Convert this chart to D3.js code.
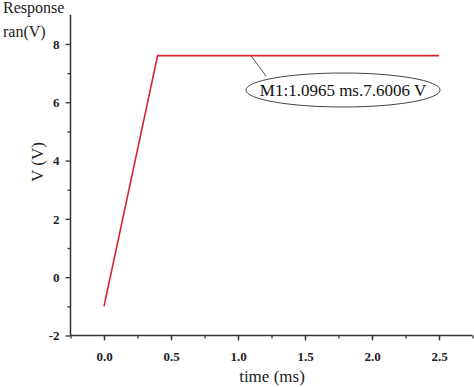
<!DOCTYPE html>
<html><head><meta charset="utf-8">
<script src="https://cdn.jsdelivr.net/npm/d3@7"></script>
<style>body{margin:0;background:#fff}svg{display:block}</style>
</head><body>
<svg id="c" width="474" height="387"></svg>
<script>
const timeMs = [0.0, 0.4, 2.5];
const voltage = [-1.0, 7.6, 7.6];
const xTicks = [0.0, 0.5, 1.0, 1.5, 2.0, 2.5];
const yTicks = [-2, 0, 2, 4, 6, 8];
const markerLabel = "M1:1.0965 ms.7.6006 V";
const markerPoint = [1.0965, 7.6006];

const svg = d3.select("#c");
const x = d3.scaleLinear().domain([-0.25, 2.75]).range([70.5, 472.5]);
const y = d3.scaleLinear().domain([-2, 9]).range([335.5, 14.8]);
const axisColor = "#333";
const serif = "'Liberation Serif','Times New Roman',serif";

// Line
const data = timeMs.map((t, i) => [t, voltage[i]]);
svg.append("path").datum(data)
  .attr("fill", "none").attr("stroke", "#d9232d").attr("stroke-width", 1.6)
  .attr("d", d3.line().x(d => x(d[0])).y(d => y(d[1])));

// X axis
const gx = svg.append("g").attr("transform", `translate(0,${y(-2)})`);
gx.call(d3.axisBottom(x).tickValues(d3.range(-0.25, 2.76, 0.25)).tickSize(3).tickFormat(""));
gx.call(g => g.select(".domain").remove());
const gx2 = svg.append("g").attr("transform", `translate(0,${y(-2)})`)
  .call(d3.axisBottom(x).tickValues(xTicks).tickSize(5).tickPadding(11).tickFormat(d3.format(".1f")));
[gx, gx2].forEach(g => {
  g.selectAll("line").attr("stroke", axisColor).attr("stroke-width", 1.3);
  g.selectAll("text").attr("font-family", serif).attr("font-weight", "bold").attr("font-size", 13).attr("fill", "#222");
});
gx2.select(".domain").attr("stroke", axisColor).attr("stroke-width", 1.5).attr("d", `M${x(-0.25)},0H${x(2.75)}`);

// Y axis
const gy = svg.append("g").attr("transform", `translate(${x(-0.25)},0)`);
gy.call(d3.axisLeft(y).tickValues(d3.range(-1, 9, 2)).tickSize(3).tickFormat(""));
gy.call(g => g.select(".domain").remove());
const gy2 = svg.append("g").attr("transform", `translate(${x(-0.25)},0)`)
  .call(d3.axisLeft(y).tickValues(yTicks).tickSize(5).tickPadding(6).tickFormat(d => String(d)));
[gy, gy2].forEach(g => {
  g.selectAll("line").attr("stroke", axisColor).attr("stroke-width", 1.3);
  g.selectAll("text").attr("font-family", serif).attr("font-weight", "bold").attr("font-size", 13).attr("fill", "#222");
});
gy2.select(".domain").attr("stroke", axisColor).attr("stroke-width", 1.5).attr("d", `M0,${y(-2)}V${y(9)}`);

// Axis titles
svg.append("text").attr("x", 272).attr("y", 382).attr("text-anchor", "middle")
  .attr("font-family", serif).attr("font-size", 17).attr("fill", "#222").text("time (ms)");
svg.append("text").attr("transform", "translate(43,162) rotate(-90)").attr("text-anchor", "middle")
  .attr("font-family", serif).attr("font-size", 17).attr("fill", "#222").text("V (V)");
svg.append("text").attr("x", 3).attr("y", 13).attr("font-family", serif).attr("font-size", 16).attr("fill", "#222").text("Response");
svg.append("text").attr("x", 3).attr("y", 37).attr("font-family", serif).attr("font-size", 16).attr("fill", "#222").text("ran(V)");

// Marker annotation
const cx = 343, cy = 90;
svg.append("line").attr("x1", x(markerPoint[0])).attr("y1", y(markerPoint[1]))
  .attr("x2", 266).attr("y2", 76).attr("stroke", "#555").attr("stroke-width", 1);
svg.append("ellipse").attr("cx", cx).attr("cy", cy).attr("rx", 97).attr("ry", 17)
  .attr("fill", "#fff").attr("stroke", "#444").attr("stroke-width", 1);
svg.append("text").attr("x", cx).attr("y", cy + 6).attr("text-anchor", "middle")
  .attr("font-family", serif).attr("font-size", 17).attr("fill", "#111").text(markerLabel);
</script>
</body></html>
